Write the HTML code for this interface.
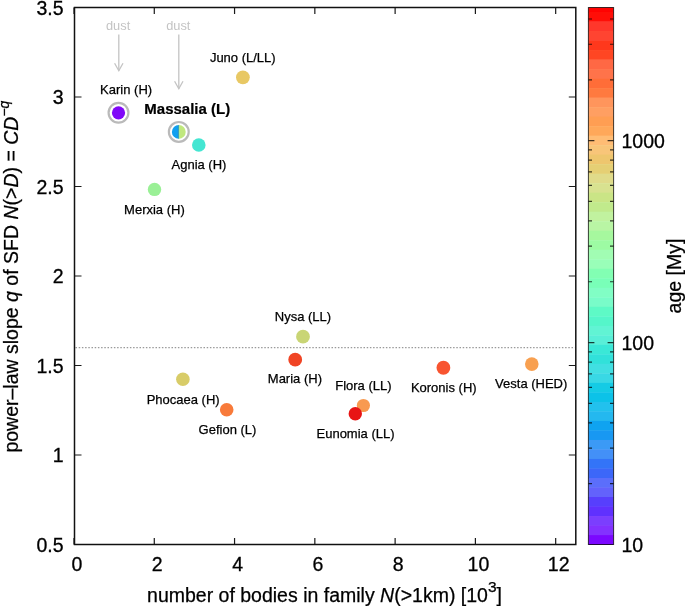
<!DOCTYPE html><html><head><meta charset="utf-8"><style>html,body{margin:0;padding:0;background:#fff;width:685px;height:606px;overflow:hidden;position:relative;font-family:"Liberation Sans",sans-serif}svg text{font-family:"Liberation Sans",sans-serif}</style></head><body><svg width="685" height="606" viewBox="0 0 685 606" style="position:absolute;left:0;top:0;will-change:transform"><rect width="685" height="606" fill="#fff"/><line x1="75.5" y1="347.60" x2="574.8" y2="347.60" stroke="#9a9a9a" stroke-width="1.2" stroke-dasharray="1.5 1.7"/><line x1="118.8" y1="34.4" x2="118.8" y2="70.7" stroke="#c4c4c4" stroke-width="1.3"/><polyline points="114.6,63.2 118.8,70.7 123.0,63.2" fill="none" stroke="#c4c4c4" stroke-width="1.3"/><line x1="178.8" y1="34.4" x2="178.8" y2="88.7" stroke="#c4c4c4" stroke-width="1.3"/><polyline points="174.60000000000002,81.2 178.8,88.7 183.0,81.2" fill="none" stroke="#c4c4c4" stroke-width="1.3"/><circle cx="118.5" cy="112.8" r="9.9" fill="#fff" stroke="#bababa" stroke-width="2.2"/><circle cx="178.8" cy="131.9" r="9.9" fill="#fff" stroke="#bababa" stroke-width="2.2"/><circle cx="242.9" cy="77.3" r="6.9" fill="#e8c864"/><circle cx="118.5" cy="112.8" r="6.6" fill="#8008f8"/><circle cx="198.8" cy="145.0" r="6.8" fill="#44e6d2"/><circle cx="154.5" cy="189.4" r="6.7" fill="#9af096"/><circle cx="303.0" cy="336.7" r="6.9" fill="#c9d575"/><circle cx="295.2" cy="359.7" r="6.9" fill="#f04424"/><circle cx="443.4" cy="367.75" r="6.9" fill="#f85430"/><circle cx="531.8" cy="364.1" r="6.8" fill="#f8a050"/><circle cx="182.9" cy="379.3" r="6.8" fill="#d8cc68"/><circle cx="226.7" cy="409.8" r="6.8" fill="#f87a3a"/><circle cx="363.4" cy="405.5" r="6.6" fill="#f89a50"/><circle cx="355.3" cy="413.8" r="6.7" fill="#e81414"/><path d="M178.8,125.0 A6.9,6.9 0 0 0 178.8,138.8 Z" fill="#12a0f0"/><path d="M178.8,125.0 A6.9,6.9 0 0 1 178.8,138.8 Z" fill="#c0e87e"/><line x1="178.45000000000002" y1="125.3" x2="178.45000000000002" y2="138.5" stroke="#0b6ea8" stroke-width="0.7"/><line x1="179.20000000000002" y1="125.3" x2="179.20000000000002" y2="138.5" stroke="#98f0b0" stroke-width="0.7"/><path d="M74.00,544.5 v-6.5 M74.00,7.5 v6.5 M154.28,544.5 v-6.5 M154.28,7.5 v6.5 M234.56,544.5 v-6.5 M234.56,7.5 v6.5 M314.84,544.5 v-6.5 M314.84,7.5 v6.5 M395.12,544.5 v-6.5 M395.12,7.5 v6.5 M475.40,544.5 v-6.5 M475.40,7.5 v6.5 M555.68,544.5 v-6.5 M555.68,7.5 v6.5 M74.5,544.50 h7 M575.8,544.50 h-7 M74.5,455.00 h7 M575.8,455.00 h-7 M74.5,365.50 h7 M575.8,365.50 h-7 M74.5,276.00 h7 M575.8,276.00 h-7 M74.5,186.50 h7 M575.8,186.50 h-7 M74.5,97.00 h7 M575.8,97.00 h-7 M74.5,7.50 h7 M575.8,7.50 h-7" stroke="#1a1a1a" stroke-width="1.2" fill="none"/><rect x="74.5" y="7.5" width="501.29999999999995" height="537.0" fill="none" stroke="#111" stroke-width="1.5"/><rect x="588.4" y="7.50" width="25.200000000000045" height="4.89" fill="#ff0302"/><rect x="588.4" y="11.99" width="25.200000000000045" height="9.91" fill="#ff0e07"/><rect x="588.4" y="21.50" width="25.200000000000045" height="9.91" fill="#ff372b"/><rect x="588.4" y="31.01" width="25.200000000000045" height="9.91" fill="#ff4431"/><rect x="588.4" y="40.52" width="25.200000000000045" height="9.91" fill="#ff381c"/><rect x="588.4" y="50.03" width="25.200000000000045" height="9.91" fill="#ff4623"/><rect x="588.4" y="59.54" width="25.200000000000045" height="9.91" fill="#ff6844"/><rect x="588.4" y="69.05" width="25.200000000000045" height="9.91" fill="#ff734a"/><rect x="588.4" y="78.56" width="25.200000000000045" height="9.91" fill="#ff6d38"/><rect x="588.4" y="88.07" width="25.200000000000045" height="9.91" fill="#ff7a3f"/><rect x="588.4" y="97.58" width="25.200000000000045" height="9.91" fill="#ff955c"/><rect x="588.4" y="107.09" width="25.200000000000045" height="9.91" fill="#ff9f62"/><rect x="588.4" y="116.60" width="25.200000000000045" height="9.91" fill="#ff9e53"/><rect x="588.4" y="126.11" width="25.200000000000045" height="9.91" fill="#ffa85a"/><rect x="588.4" y="135.62" width="25.200000000000045" height="9.91" fill="#ffbc74"/><rect x="588.4" y="145.13" width="25.200000000000045" height="9.91" fill="#f8c579"/><rect x="588.4" y="154.64" width="25.200000000000045" height="9.91" fill="#eec66e"/><rect x="588.4" y="164.15" width="25.200000000000045" height="9.91" fill="#e5cf74"/><rect x="588.4" y="173.66" width="25.200000000000045" height="9.91" fill="#e0db8a"/><rect x="588.4" y="183.17" width="25.200000000000045" height="9.91" fill="#d8e290"/><rect x="588.4" y="192.68" width="25.200000000000045" height="9.91" fill="#cae586"/><rect x="588.4" y="202.19" width="25.200000000000045" height="9.91" fill="#c1ea8c"/><rect x="588.4" y="211.70" width="25.200000000000045" height="9.91" fill="#c1f29f"/><rect x="588.4" y="221.21" width="25.200000000000045" height="9.91" fill="#b9f5a4"/><rect x="588.4" y="230.72" width="25.200000000000045" height="9.91" fill="#a6f89e"/><rect x="588.4" y="240.23" width="25.200000000000045" height="9.91" fill="#9dfba3"/><rect x="588.4" y="249.74" width="25.200000000000045" height="9.91" fill="#a1fdb3"/><rect x="588.4" y="259.25" width="25.200000000000045" height="9.91" fill="#99feb8"/><rect x="588.4" y="268.76" width="25.200000000000045" height="9.91" fill="#82ffb3"/><rect x="588.4" y="278.27" width="25.200000000000045" height="9.91" fill="#79ffb8"/><rect x="588.4" y="287.78" width="25.200000000000045" height="9.91" fill="#81fec5"/><rect x="588.4" y="297.29" width="25.200000000000045" height="9.91" fill="#79fcc9"/><rect x="588.4" y="306.80" width="25.200000000000045" height="9.91" fill="#5efac6"/><rect x="588.4" y="316.31" width="25.200000000000045" height="9.91" fill="#55f6ca"/><rect x="588.4" y="325.82" width="25.200000000000045" height="9.91" fill="#61f4d4"/><rect x="588.4" y="335.33" width="25.200000000000045" height="9.91" fill="#59efd8"/><rect x="588.4" y="344.84" width="25.200000000000045" height="9.91" fill="#3ae8d7"/><rect x="588.4" y="354.35" width="25.200000000000045" height="9.91" fill="#31e1da"/><rect x="588.4" y="363.86" width="25.200000000000045" height="9.91" fill="#41dfe2"/><rect x="588.4" y="373.37" width="25.200000000000045" height="9.91" fill="#39d8e5"/><rect x="588.4" y="382.88" width="25.200000000000045" height="9.91" fill="#15cbe5"/><rect x="588.4" y="392.39" width="25.200000000000045" height="9.91" fill="#0cc2e8"/><rect x="588.4" y="401.90" width="25.200000000000045" height="9.91" fill="#22c1ed"/><rect x="588.4" y="411.41" width="25.200000000000045" height="9.91" fill="#24b8ef"/><rect x="588.4" y="420.92" width="25.200000000000045" height="9.91" fill="#0fa3f0"/><rect x="588.4" y="430.43" width="25.200000000000045" height="9.91" fill="#1898f2"/><rect x="588.4" y="439.94" width="25.200000000000045" height="9.91" fill="#3b9af6"/><rect x="588.4" y="449.45" width="25.200000000000045" height="9.91" fill="#4390f7"/><rect x="588.4" y="458.96" width="25.200000000000045" height="9.91" fill="#3374f8"/><rect x="588.4" y="468.47" width="25.200000000000045" height="9.91" fill="#3c67f9"/><rect x="588.4" y="477.98" width="25.200000000000045" height="9.91" fill="#5b6efb"/><rect x="588.4" y="487.49" width="25.200000000000045" height="9.91" fill="#6362fc"/><rect x="588.4" y="497.00" width="25.200000000000045" height="9.91" fill="#573ffd"/><rect x="588.4" y="506.51" width="25.200000000000045" height="9.91" fill="#6031fe"/><rect x="588.4" y="516.02" width="25.200000000000045" height="9.91" fill="#7b3efe"/><rect x="588.4" y="525.53" width="25.200000000000045" height="9.91" fill="#8331ff"/><rect x="588.4" y="535.04" width="25.200000000000045" height="9.86" fill="#7b07ff"/><path d="M588.4,483.71 h3.6 M613.6,483.71 h-3.6 M588.4,448.15 h3.6 M613.6,448.15 h-3.6 M588.4,422.91 h3.6 M613.6,422.91 h-3.6 M588.4,403.34 h3.6 M613.6,403.34 h-3.6 M588.4,387.35 h3.6 M613.6,387.35 h-3.6 M588.4,373.83 h3.6 M613.6,373.83 h-3.6 M588.4,362.12 h3.6 M613.6,362.12 h-3.6 M588.4,351.79 h3.6 M613.6,351.79 h-3.6 M588.4,342.55 h6 M613.6,342.55 h-6 M588.4,281.76 h3.6 M613.6,281.76 h-3.6 M588.4,246.20 h3.6 M613.6,246.20 h-3.6 M588.4,220.96 h3.6 M613.6,220.96 h-3.6 M588.4,201.39 h3.6 M613.6,201.39 h-3.6 M588.4,185.40 h3.6 M613.6,185.40 h-3.6 M588.4,171.88 h3.6 M613.6,171.88 h-3.6 M588.4,160.17 h3.6 M613.6,160.17 h-3.6 M588.4,149.84 h3.6 M613.6,149.84 h-3.6 M588.4,140.60 h6 M613.6,140.60 h-6 M588.4,79.81 h3.6 M613.6,79.81 h-3.6 M588.4,44.25 h3.6 M613.6,44.25 h-3.6 M588.4,19.01 h3.6 M613.6,19.01 h-3.6" stroke="#000" stroke-opacity="0.75" stroke-width="1.2" fill="none"/><rect x="588.4" y="7.5" width="25.200000000000045" height="537.0" fill="none" stroke="#000" stroke-opacity="0.75" stroke-width="1"/><text x="100.10000000000001" y="93.9" font-size="13" fill="#000" font-family="&quot;Liberation Sans&quot;, sans-serif" stroke="#000" stroke-width="0.25">Karin (H)</text><text x="171.5" y="168.7" font-size="13" fill="#000" font-family="&quot;Liberation Sans&quot;, sans-serif" stroke="#000" stroke-width="0.25">Agnia (H)</text><text x="124.10000000000001" y="213.5" font-size="13" fill="#000" font-family="&quot;Liberation Sans&quot;, sans-serif" stroke="#000" stroke-width="0.25">Merxia (H)</text><text x="209.89999999999998" y="62.0" font-size="13" fill="#000" font-family="&quot;Liberation Sans&quot;, sans-serif" stroke="#000" stroke-width="0.25">Juno (L/LL)</text><text x="274.8" y="321.2" font-size="13" fill="#000" font-family="&quot;Liberation Sans&quot;, sans-serif" stroke="#000" stroke-width="0.25">Nysa (LL)</text><text x="267.8" y="383.4" font-size="13" fill="#000" font-family="&quot;Liberation Sans&quot;, sans-serif" stroke="#000" stroke-width="0.25">Maria (H)</text><text x="335.2" y="389.7" font-size="13" fill="#000" font-family="&quot;Liberation Sans&quot;, sans-serif" stroke="#000" stroke-width="0.25">Flora (LL)</text><text x="316.5" y="437.6" font-size="13" fill="#000" font-family="&quot;Liberation Sans&quot;, sans-serif" stroke="#000" stroke-width="0.25">Eunomia (LL)</text><text x="410.9" y="391.7" font-size="13" fill="#000" font-family="&quot;Liberation Sans&quot;, sans-serif" stroke="#000" stroke-width="0.25">Koronis (H)</text><text x="495.09999999999997" y="387.8" font-size="13" fill="#000" font-family="&quot;Liberation Sans&quot;, sans-serif" stroke="#000" stroke-width="0.25">Vesta (HED)</text><text x="146.7" y="403.7" font-size="13" fill="#000" font-family="&quot;Liberation Sans&quot;, sans-serif" stroke="#000" stroke-width="0.25">Phocaea (H)</text><text x="198.6" y="433.9" font-size="13" fill="#000" font-family="&quot;Liberation Sans&quot;, sans-serif" stroke="#000" stroke-width="0.25">Gefion (L)</text><text x="144.29999999999998" y="113.6" font-size="15.0" fill="#000" font-family="&quot;Liberation Sans&quot;, sans-serif" font-weight="bold" stroke="#000" stroke-width="0.2">Massalia (L)</text><text x="106.0" y="29.8" font-size="12.8" fill="#c4c4c4" font-family="&quot;Liberation Sans&quot;, sans-serif" >dust</text><text x="166.20000000000002" y="29.8" font-size="12.8" fill="#c4c4c4" font-family="&quot;Liberation Sans&quot;, sans-serif" >dust</text><text x="63.5" y="551.5" font-size="19.5" fill="#000" font-family="&quot;Liberation Sans&quot;, sans-serif" text-anchor="end" stroke="#000" stroke-width="0.3">0.5</text><text x="63.5" y="462.0" font-size="19.5" fill="#000" font-family="&quot;Liberation Sans&quot;, sans-serif" text-anchor="end" stroke="#000" stroke-width="0.3">1</text><text x="63.5" y="372.5" font-size="19.5" fill="#000" font-family="&quot;Liberation Sans&quot;, sans-serif" text-anchor="end" stroke="#000" stroke-width="0.3">1.5</text><text x="63.5" y="283.0" font-size="19.5" fill="#000" font-family="&quot;Liberation Sans&quot;, sans-serif" text-anchor="end" stroke="#000" stroke-width="0.3">2</text><text x="63.5" y="193.5" font-size="19.5" fill="#000" font-family="&quot;Liberation Sans&quot;, sans-serif" text-anchor="end" stroke="#000" stroke-width="0.3">2.5</text><text x="63.5" y="104.0" font-size="19.5" fill="#000" font-family="&quot;Liberation Sans&quot;, sans-serif" text-anchor="end" stroke="#000" stroke-width="0.3">3</text><text x="63.5" y="14.5" font-size="19.5" fill="#000" font-family="&quot;Liberation Sans&quot;, sans-serif" text-anchor="end" stroke="#000" stroke-width="0.3">3.5</text><text x="77.0" y="571.1" font-size="19.5" fill="#000" font-family="&quot;Liberation Sans&quot;, sans-serif" text-anchor="middle" stroke="#000" stroke-width="0.3">0</text><text x="157.28" y="571.1" font-size="19.5" fill="#000" font-family="&quot;Liberation Sans&quot;, sans-serif" text-anchor="middle" stroke="#000" stroke-width="0.3">2</text><text x="237.56" y="571.1" font-size="19.5" fill="#000" font-family="&quot;Liberation Sans&quot;, sans-serif" text-anchor="middle" stroke="#000" stroke-width="0.3">4</text><text x="317.84000000000003" y="571.1" font-size="19.5" fill="#000" font-family="&quot;Liberation Sans&quot;, sans-serif" text-anchor="middle" stroke="#000" stroke-width="0.3">6</text><text x="398.12" y="571.1" font-size="19.5" fill="#000" font-family="&quot;Liberation Sans&quot;, sans-serif" text-anchor="middle" stroke="#000" stroke-width="0.3">8</text><text x="478.4" y="571.1" font-size="19.5" fill="#000" font-family="&quot;Liberation Sans&quot;, sans-serif" text-anchor="middle" stroke="#000" stroke-width="0.3">10</text><text x="558.6800000000001" y="571.1" font-size="19.5" fill="#000" font-family="&quot;Liberation Sans&quot;, sans-serif" text-anchor="middle" stroke="#000" stroke-width="0.3">12</text><text x="621.5" y="551.5" font-size="19.5" fill="#000" font-family="&quot;Liberation Sans&quot;, sans-serif" stroke="#000" stroke-width="0.3">10</text><text x="621.5" y="349.55" font-size="19.5" fill="#000" font-family="&quot;Liberation Sans&quot;, sans-serif" stroke="#000" stroke-width="0.3">100</text><text x="621.5" y="147.60000000000002" font-size="19.5" fill="#000" font-family="&quot;Liberation Sans&quot;, sans-serif" stroke="#000" stroke-width="0.3">1000</text><text x="324.5" y="602" font-size="19.5" fill="#000" stroke="#000" stroke-width="0.25" font-family="&quot;Liberation Sans&quot;, sans-serif" text-anchor="middle">number of bodies in family <tspan font-style="italic">N</tspan>(&gt;1km) [10<tspan dy="-9.8" font-size="15.5">3</tspan><tspan dy="9.8">]</tspan></text><text transform="translate(18.4,276.6) rotate(-90)" font-size="19.5" fill="#000" stroke="#000" stroke-width="0.25" font-family="&quot;Liberation Sans&quot;, sans-serif" text-anchor="middle">power–law slope <tspan font-style="italic">q</tspan> of SFD <tspan font-style="italic">N</tspan>(&gt;<tspan font-style="italic">D</tspan>) = <tspan font-style="italic">CD</tspan><tspan dy="-9.6" font-size="14">−<tspan font-style="italic">q</tspan></tspan></text><text transform="translate(681,276) rotate(-90)" font-size="19.5" fill="#000" stroke="#000" stroke-width="0.25" font-family="&quot;Liberation Sans&quot;, sans-serif" text-anchor="middle">age [My]</text></svg></body></html>
